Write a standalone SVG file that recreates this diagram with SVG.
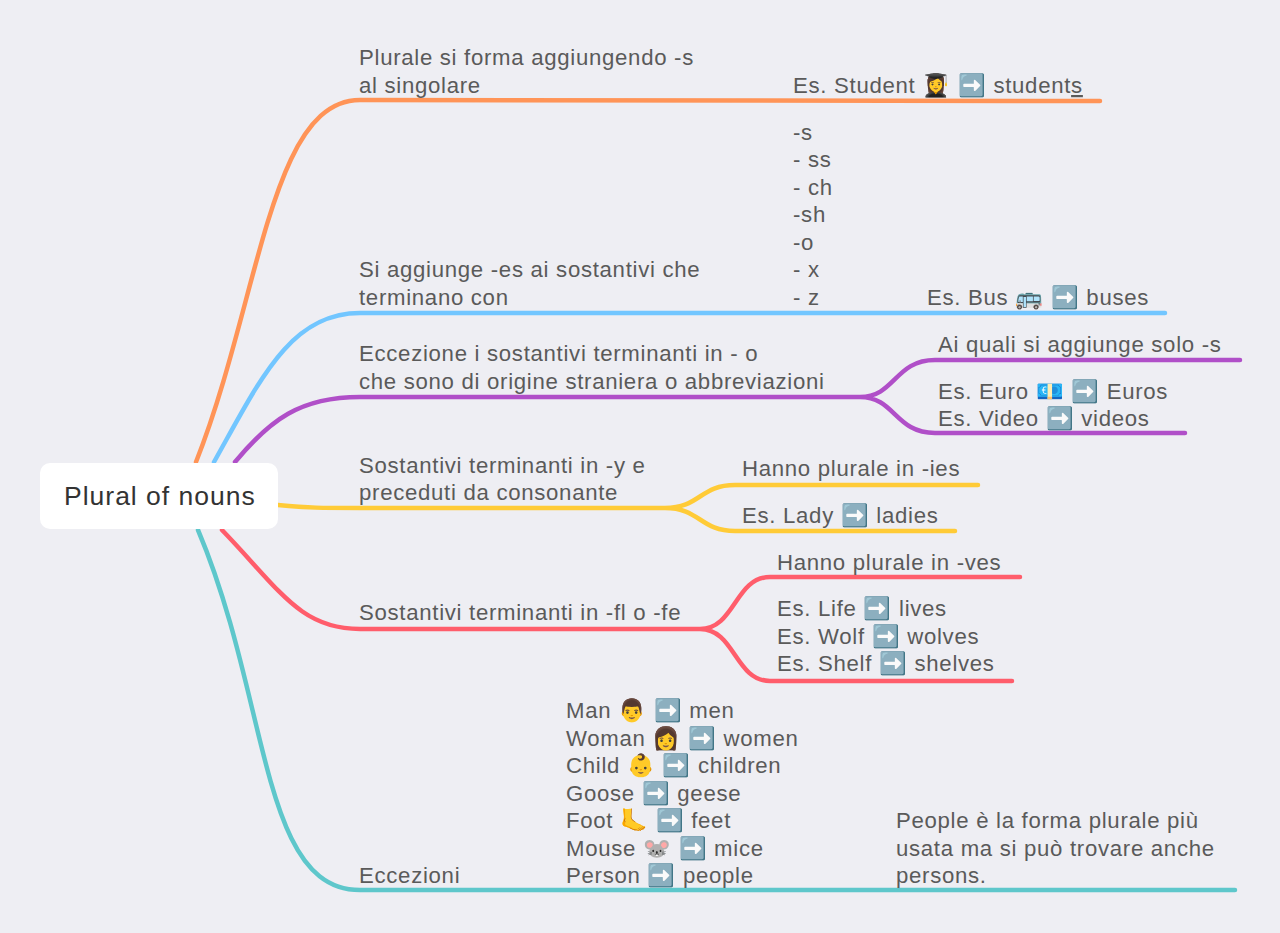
<svg xmlns="http://www.w3.org/2000/svg" width="1280" height="933" viewBox="0 0 1280 933">
<style>
text{font-family:"Liberation Sans",Arial,sans-serif;font-size:22.2px;letter-spacing:0.7px;fill:#5a5a5a}
.c{fill:none;stroke-width:4.5;stroke-linecap:round}
.o{stroke:#ff9457}.b{stroke:#72c6ff}.p{stroke:#b04fc8}.y{stroke:#ffcb37}.r{stroke:#ff5d6b}.t{stroke:#5ec7cb}
</style>
<rect width="1280" height="933" fill="#eeeef3"/>
<g id="connectors">
<path class="c o" d="M196 462 C260 300 270 100 360 100 L1100 101"/>
<path class="c b" d="M214 462 C260 380 290 313 360 313 L1165 313"/>
<path class="c p" d="M235 462 C270 420 300 397 360 397 L860 397 C895 397 895 360 935 360 L1240 360 M860 397 C895 397 895 433 935 433 L1185 433"/>
<path class="c y" d="M278 505 C310 508 320 508 360 508 L665 508 C700 508 700 485 735 485 L978 485 M665 508 C700 508 700 531 735 531 L955 531"/>
<path class="c r" d="M222 530 C280 590 300 629 360 629 L700 629 C735 629 735 577 770 577 L1020 577 M700 629 C735 629 735 681 770 681 L1012 681"/>
<path class="c t" d="M198 530 C270 700 260 890 360 890 L1235 890"/>
</g>
<g id="root">
<rect x="40" y="463" width="238" height="66" rx="10" fill="#fff"/>
<text x="64" y="505" style="font-size:26.5px;letter-spacing:1px;fill:#333">Plural of nouns</text>
</g>
<g id="n1"><text x="359" y="65">Plurale si forma aggiungendo -s</text><text x="359" y="93">al singolare</text></g>
<g id="n1a"><text x="793" y="93">Es. Student 👩‍🎓 ➡️ student<tspan text-decoration="underline">s</tspan></text></g>
<g id="n2"><text x="359" y="277">Si aggiunge -es ai sostantivi che</text><text x="359" y="305">terminano con</text></g>
<g id="n2a"><text x="793" y="140">-s</text><text x="793" y="167">- ss</text><text x="793" y="195">- ch</text><text x="793" y="222">-sh</text><text x="793" y="250">-o</text><text x="793" y="277">- x</text><text x="793" y="305">- z</text></g>
<g id="n2b"><text x="927" y="305">Es. Bus 🚌 ➡️ buses</text></g>
<g id="n3"><text x="359" y="361">Eccezione i sostantivi terminanti in - o</text><text x="359" y="389">che sono di origine straniera o abbreviazioni</text></g>
<g id="n3a"><text x="938" y="352">Ai quali si aggiunge solo -s</text></g>
<g id="n3b"><text x="938" y="399">Es. Euro 💶 ➡️ Euros</text><text x="938" y="426">Es. Video ➡️ videos</text></g>
<g id="n4"><text x="359" y="473">Sostantivi terminanti in -y e</text><text x="359" y="500">preceduti da consonante</text></g>
<g id="n4a"><text x="742" y="476">Hanno plurale in -ies</text></g>
<g id="n4b"><text x="742" y="523">Es. Lady ➡️ ladies</text></g>
<g id="n5"><text x="359" y="620">Sostantivi terminanti in -fl o -fe</text></g>
<g id="n5a"><text x="777" y="570">Hanno plurale in -ves</text></g>
<g id="n5b"><text x="777" y="616">Es. Life ➡️ lives</text><text x="777" y="644">Es. Wolf ➡️ wolves</text><text x="777" y="671">Es. Shelf ➡️ shelves</text></g>
<g id="n6"><text x="359" y="883">Eccezioni</text></g>
<g id="n6a"><text x="566" y="718">Man 👨 ➡️ men</text><text x="566" y="746">Woman 👩 ➡️ women</text><text x="566" y="773">Child 👶 ➡️ children</text><text x="566" y="801">Goose ➡️ geese</text><text x="566" y="828">Foot 🦶 ➡️ feet</text><text x="566" y="856">Mouse 🐭 ➡️ mice</text><text x="566" y="883">Person ➡️ people</text></g>
<g id="n6b"><text x="896" y="828">People è la forma plurale più</text><text x="896" y="856">usata ma si può trovare anche</text><text x="896" y="883">persons.</text></g>
</svg>
